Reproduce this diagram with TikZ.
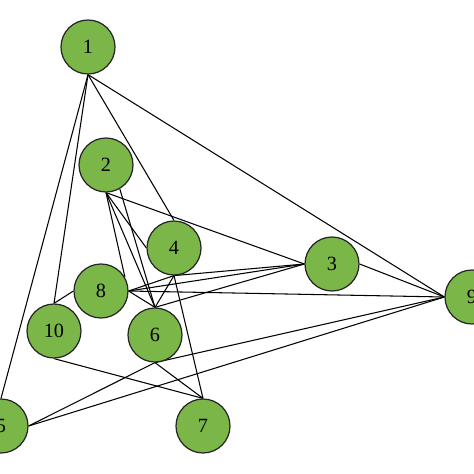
\documentclass[tikz,border=0pt]{standalone}
\usepackage{fontspec}
\setmainfont{Liberation Serif}
\usetikzlibrary{backgrounds}
\definecolor{NodeGreen}{HTML}{7AB648}

\begin{document}
\begin{tikzpicture}[
    x=0.2mm, y=-0.2mm,
    vertex/.style={circle, draw=black!85, line width=0.7pt, fill=NodeGreen, minimum size=10.8mm, inner sep=0pt, font=\fontsize{11.5}{13}\selectfont},
    edge/.style={black, line width=0.6pt}
]
  \useasboundingbox (0,0) rectangle (474,474);
  % Vertices
  \node[vertex] (v1) at (88,47) {1};
  \node[vertex] (v2) at (106,165) {2};
  \node[vertex] (v3) at (332,264) {3};
  \node[vertex] (v4) at (174,248) {4};
  \node[vertex] (v5) at (1,426) {5};
  \node[vertex] (v6) at (155,335) {6};
  \node[vertex] (v7) at (203,426) {7};
  \node[vertex] (v8) at (101,291) {8};
  \node[vertex] (v9) at (472,297) {9};
  \node[vertex] (v10) at (54,331) {10};
  % Edges (behind the vertices)
  \begin{scope}[on background layer]
    \draw[edge] (v1.south)--(v5.north); \draw[edge] (v1.south)--(v10.north);
    \draw[edge] (v1.south)--(v4.north); \draw[edge] (v1.south)--(v9.west);
    \draw[edge] (v2.south)--(v8.30);    \draw[edge] (v2.south)--(v6.north);
    \draw[edge] (v2.-60)--(v6.north);   \draw[edge] (v2.south)--(v4.west);
    \draw[edge] (v2.south)--(v3.west);
    \draw[edge] (v4.south)--(v8.east);  \draw[edge] (v4.south)--(v6.north);
    \draw[edge] (v4.south)--(v7.north); \draw[edge] (v4.south)--(v3.west);
    \draw[edge] (v8.east)--(v3.west);   \draw[edge] (v6.north)--(v3.west);
    \draw[edge] (v3.east)--(v9.west);
    \draw[edge] (v8.east)--(v9.west);   \draw[edge] (v8.east)--(v6.north);
    \draw[edge] (v8.west)--(v10.north);
    \draw[edge] (v6.south)--(v5.east);  \draw[edge] (v6.south)--(v7.north);
    \draw[edge] (v6.south)--(v9.west);
    \draw[edge] (v10.south)--(v7.north);
    \draw[edge] (v5.east)--(v9.west);
  \end{scope}
\end{tikzpicture}
\end{document}
